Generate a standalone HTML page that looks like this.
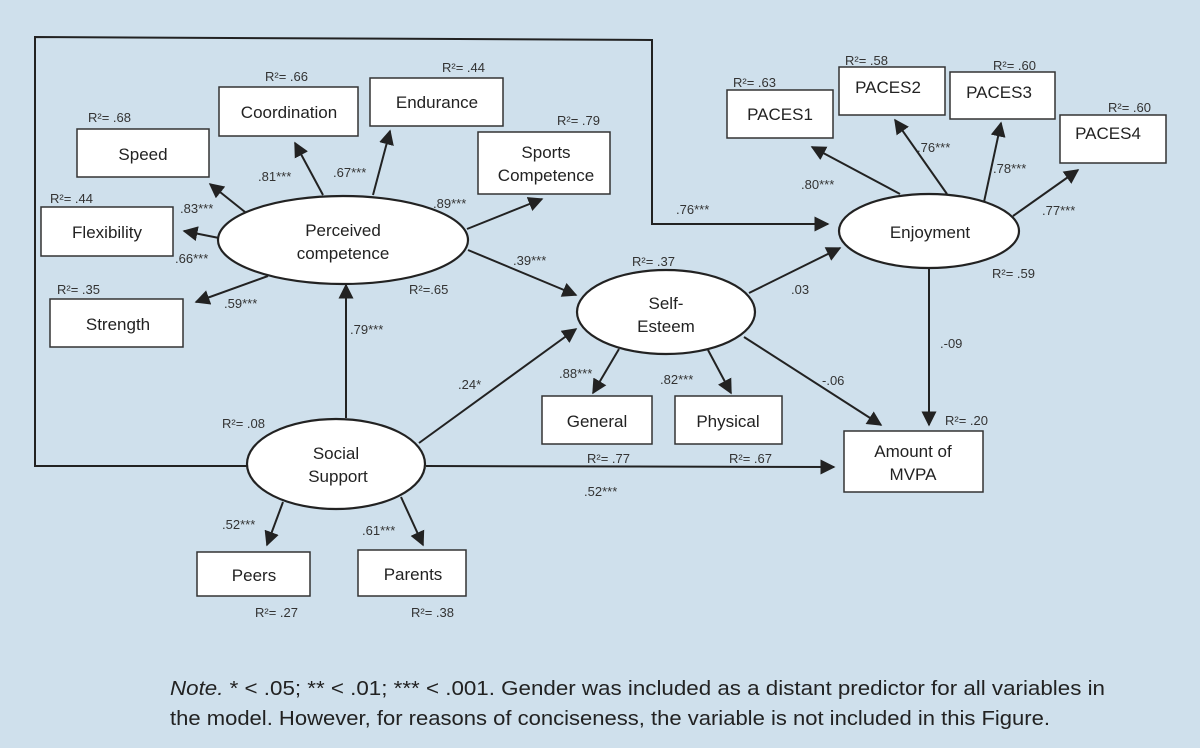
<!DOCTYPE html>
<html><head><meta charset="utf-8"><style>
html,body{margin:0;padding:0;background:#cfe0ec;}
svg{display:block;font-family:"Liberation Sans",sans-serif;}
.b{fill:#fff;stroke:#333;stroke-width:1.5}
.e{fill:#fff;stroke:#222;stroke-width:2.2}
.l{stroke:#222;stroke-width:2;fill:none}
.t{font-size:17px;fill:#222;text-anchor:middle}
.r{font-size:13px;fill:#333}
.p{font-size:13px;fill:#333}
.n{font-size:20px;fill:#222}
</style></head><body>
<svg width="1200" height="748" viewBox="0 0 1200 748" xmlns="http://www.w3.org/2000/svg">
<defs><marker id="a" viewBox="0 0 10 10" refX="9" refY="5" markerWidth="7.5" markerHeight="7.5" orient="auto"><path d="M0,0 L10,5 L0,10 z" fill="#222"/></marker></defs>
<rect width="1200" height="748" fill="#cfe0ec"/>
<path class="l" d="M247,466 L35,466 L35,37 L652,40 L652,224 L828,224" marker-end="url(#a)"/>
<line class="l" x1="426" y1="466" x2="834" y2="467" marker-end="url(#a)"/>
<g class="l" marker-end="url(#a)">
<line x1="245" y1="212" x2="210" y2="184"/>
<line x1="323" y1="195" x2="295" y2="143"/>
<line x1="373" y1="195" x2="390" y2="131"/>
<line x1="467" y1="229" x2="542" y2="199"/>
<line x1="219" y1="238" x2="184" y2="231"/>
<line x1="268" y1="276" x2="196" y2="302"/>
<line x1="468" y1="250" x2="576" y2="295"/>
<line x1="346" y1="418" x2="346" y2="285"/>
<line x1="419" y1="443" x2="576" y2="329"/>
<line x1="283" y1="502" x2="267" y2="545"/>
<line x1="401" y1="497" x2="423" y2="545"/>
<line x1="619" y1="349" x2="593" y2="393"/>
<line x1="708" y1="350" x2="731" y2="393"/>
<line x1="744" y1="337" x2="881" y2="425"/>
<line x1="749" y1="293" x2="840" y2="248"/>
<line x1="929" y1="268" x2="929" y2="425"/>
<line x1="900" y1="194" x2="812" y2="147"/>
<line x1="947" y1="194" x2="895" y2="120"/>
<line x1="984" y1="202" x2="1001" y2="123"/>
<line x1="1013" y1="216" x2="1078" y2="170"/>
</g>
<rect class="b" x="77" y="129" width="132" height="48"/><text class="t" x="143" y="160">Speed</text>
<rect class="b" x="219" y="87" width="139" height="49"/><text class="t" x="289" y="118">Coordination</text>
<rect class="b" x="370" y="78" width="133" height="48"/><text class="t" x="437" y="108">Endurance</text>
<rect class="b" x="478" y="132" width="132" height="62"/><text class="t" x="546" y="158">Sports</text><text class="t" x="546" y="181">Competence</text>
<rect class="b" x="41" y="207" width="132" height="49"/><text class="t" x="107" y="238">Flexibility</text>
<rect class="b" x="50" y="299" width="133" height="48"/><text class="t" x="118" y="330">Strength</text>
<rect class="b" x="197" y="552" width="113" height="44"/><text class="t" x="254" y="581">Peers</text>
<rect class="b" x="358" y="550" width="108" height="46"/><text class="t" x="413" y="580">Parents</text>
<rect class="b" x="542" y="396" width="110" height="48"/><text class="t" x="597" y="427">General</text>
<rect class="b" x="675" y="396" width="107" height="48"/><text class="t" x="728" y="427">Physical</text>
<rect class="b" x="844" y="431" width="139" height="61"/><text class="t" x="913" y="457">Amount of</text><text class="t" x="913" y="480">MVPA</text>
<rect class="b" x="727" y="90" width="106" height="48"/><text class="t" x="780" y="120">PACES1</text>
<rect class="b" x="839" y="67" width="106" height="48"/><text class="t" x="888" y="93">PACES2</text>
<rect class="b" x="950" y="72" width="105" height="47"/><text class="t" x="999" y="98">PACES3</text>
<rect class="b" x="1060" y="115" width="106" height="48"/><text class="t" x="1108" y="139">PACES4</text>
<ellipse class="e" cx="343" cy="240" rx="125" ry="44"/><text class="t" x="343" y="236">Perceived</text><text class="t" x="343" y="259">competence</text>
<ellipse class="e" cx="336" cy="464" rx="89" ry="45"/><text class="t" x="336" y="459">Social</text><text class="t" x="338" y="482">Support</text>
<ellipse class="e" cx="666" cy="312" rx="89" ry="42"/><text class="t" x="666" y="309">Self-</text><text class="t" x="666" y="332">Esteem</text>
<ellipse class="e" cx="929" cy="231" rx="90" ry="37"/><text class="t" x="930" y="238">Enjoyment</text>
<g class="r">
<text x="88" y="122">R²= .68</text><text x="265" y="81">R²= .66</text><text x="442" y="72">R²= .44</text>
<text x="557" y="125">R²= .79</text><text x="50" y="203">R²= .44</text><text x="57" y="294">R²= .35</text>
<text x="409" y="294">R²=.65</text><text x="222" y="428">R²= .08</text><text x="255" y="617">R²= .27</text>
<text x="411" y="617">R²= .38</text><text x="632" y="266">R²= .37</text><text x="587" y="463">R²= .77</text>
<text x="729" y="463">R²= .67</text><text x="945" y="425">R²= .20</text><text x="992" y="278">R²= .59</text>
<text x="733" y="87">R²= .63</text><text x="845" y="65">R²= .58</text><text x="993" y="70">R²= .60</text>
<text x="1108" y="112">R²= .60</text>
</g>
<g class="p">
<text x="180" y="213">.83***</text><text x="258" y="181">.81***</text><text x="333" y="177">.67***</text>
<text x="433" y="208">.89***</text><text x="175" y="263">.66***</text><text x="224" y="308">.59***</text>
<text x="513" y="265">.39***</text><text x="350" y="334">.79***</text><text x="458" y="389">.24*</text>
<text x="222" y="529">.52***</text><text x="362" y="535">.61***</text><text x="559" y="378">.88***</text>
<text x="660" y="384">.82***</text><text x="822" y="385">-.06</text><text x="940" y="348">.-09</text>
<text x="791" y="294">.03</text><text x="676" y="214">.76***</text><text x="801" y="189">.80***</text>
<text x="917" y="152">.76***</text><text x="993" y="173">.78***</text><text x="1042" y="215">.77***</text>
<text x="584" y="496">.52***</text>
</g>
<text class="n" x="170" y="695" textLength="935" lengthAdjust="spacingAndGlyphs"><tspan font-style="italic">Note.</tspan> * &lt; .05;  ** &lt; .01; *** &lt; .001. Gender was included as a distant predictor for all variables in</text>
<text class="n" x="170" y="725" textLength="880" lengthAdjust="spacingAndGlyphs">the model. However, for reasons of conciseness, the variable is not included in this Figure.</text>
</svg>
</body></html>
